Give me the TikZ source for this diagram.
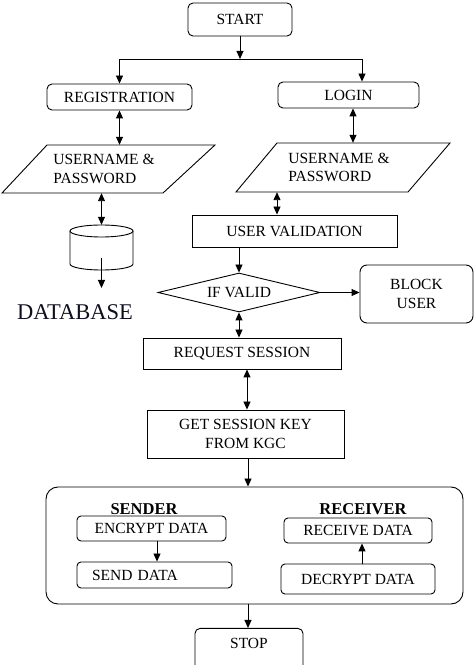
\documentclass[tikz,border=0pt]{standalone}
\usepackage{fontspec}
\setmainfont{Liberation Serif}
\usetikzlibrary{arrows.meta,shapes.geometric,calc}
\begin{document}
\begin{tikzpicture}[x=1pt,y=1pt,
  every node/.style={font=\fontsize{15.5}{18.5}\selectfont, inner sep=0pt},
  lw/.style={line width=0.9pt},
  rbox/.style={draw, lw, rounded corners=5pt, align=center},
  sbox/.style={draw, lw, align=center},
  arr/.style={lw, -{Triangle[length=8pt,width=7pt]}},
  dbl/.style={lw, {Triangle[length=8pt,width=7pt]}-{Triangle[length=8pt,width=7pt]}},
  ]
\clip (0,0) rectangle (474,665);
\fill[white] (0,0) rectangle (474,665);

% top part
\node[rbox, minimum width=104pt, minimum height=33pt] (start) at (240,645.5) {START};
\coordinate (junc) at (240,606);
\node[rbox, minimum width=145pt, minimum height=26pt] (reg) at (119.5,568) {REGISTRATION};
\node[rbox, minimum width=141pt, minimum height=26pt] (login) at (348.5,570) {LOGIN};

% parallelograms
\draw[lw] (2,472) -- (163,472) -- (215,520) -- (47,520) -- cycle;
\node[align=left, minimum height=48pt] (up1) at (104,496) {USERNAME \&\\PASSWORD};
\draw[lw] (236,473) -- (408,473) -- (450,522) -- (277,522) -- cycle;
\node[align=left, minimum height=49pt] (up2) at (339,497.5) {USERNAME \&\\PASSWORD};

% database cylinder
\node[minimum width=63pt, minimum height=45pt] (db) at (101.5,417.5) {};
\draw[lw] (70,434) -- (70,401) arc[start angle=180, end angle=360, x radius=31.5, y radius=6] -- (133,434);
\draw[lw] (101.5,434) ellipse[x radius=31.5, y radius=6];
\coordinate (dbin) at (101.5,407);
\coordinate (dbout) at (101.5,377);
\node[font=\fontsize{22.5}{26}\selectfont, text={rgb,1:red,0.06;green,0.06;blue,0.12}] (dblabel) at (75,353) {DATABASE};

% validation
\node[sbox, minimum width=205pt, minimum height=32pt] (uv) at (294.5,434) {USER VALIDATION};
\node[diamond, draw, lw, aspect=4.15, minimum width=162pt, minimum height=39pt] (valid) at (239,372.5) {IF VALID};
\node[rbox, minimum width=113pt, minimum height=58pt, rounded corners=7pt] (block) at (416.5,371) {BLOCK\\USER};
\node[sbox, minimum width=198pt, minimum height=31pt] (req) at (242,311.5) {REQUEST SESSION};
\node[sbox, minimum width=197pt, minimum height=48pt] (key) at (245.5,231) {GET SESSION KEY\\FROM KGC};

% big box
\node[draw, lw, rounded corners=12pt, minimum width=417pt, minimum height=117pt] (big) at (254.5,119.5) {};
\node[font=\fontsize{16.5}{18}\selectfont\bfseries] (sender) at (144,156) {SENDER};
\node[font=\fontsize{16.5}{18}\selectfont\bfseries] (receiver) at (363,156) {RECEIVER};
\node[rbox, minimum width=149pt, minimum height=25pt, rounded corners=4pt] (enc) at (151.5,136.5) {ENCRYPT DATA};
\node[draw, lw, rounded corners=4pt, text width=125pt, inner xsep=15pt, align=left, minimum height=26pt] (send) at (154.5,90) {SEND DATA};
\node[rbox, minimum width=148pt, minimum height=25pt, rounded corners=4pt] (recv) at (358,134.5) {RECEIVE DATA};
\node[rbox, minimum width=154pt, minimum height=30pt, rounded corners=4pt] (dec) at (358,86) {DECRYPT DATA};

% stop
\node[draw, lw, rounded corners=5pt, minimum width=108pt, text height=20pt, text depth=25pt, anchor=north] (stop) at (249,37) {STOP};

% connectors
\draw[arr] (start.south) -- (junc);
\draw[arr] (junc) -| (reg.north);
\draw[arr] (junc) -| ([xshift=13.5pt]login.north);
\draw[dbl] (reg.south) -- (reg.south |- up1.north);
\draw[dbl] (db.north |- up1.south) -- (db.north);
\draw[arr] (dbin) -- (dbout);
\draw[dbl] ([xshift=4.5pt]login.south) -- ([xshift=4.5pt]login.south |- up2.north);
\draw[dbl] ([xshift=-17.5pt]uv.north |- up2.south) -- ([xshift=-17.5pt]uv.north);
\draw[arr] (uv.south -| valid.north) -- (valid.north);
\draw[arr] (valid.east) -- (valid.east -| block.west);
\draw[dbl] (valid.south) -- (valid.south |- req.north);
\draw[dbl] ([xshift=5pt]req.south) -- ([xshift=5pt]req.south |- key.north);
\draw[arr] ([xshift=2.5pt]key.south) -- ([xshift=2.5pt]key.south |- big.north);
\draw[arr] ([xshift=5.5pt]enc.south) -- ([xshift=5.5pt]enc.south |- send.north);
\draw[arr] ([xshift=4pt]dec.north) -- ([xshift=4pt]dec.north |- recv.south);
\draw[arr] ([xshift=-6.5pt]big.south) -- ([xshift=-6.5pt]big.south |- stop.north);
\end{tikzpicture}
\end{document}
